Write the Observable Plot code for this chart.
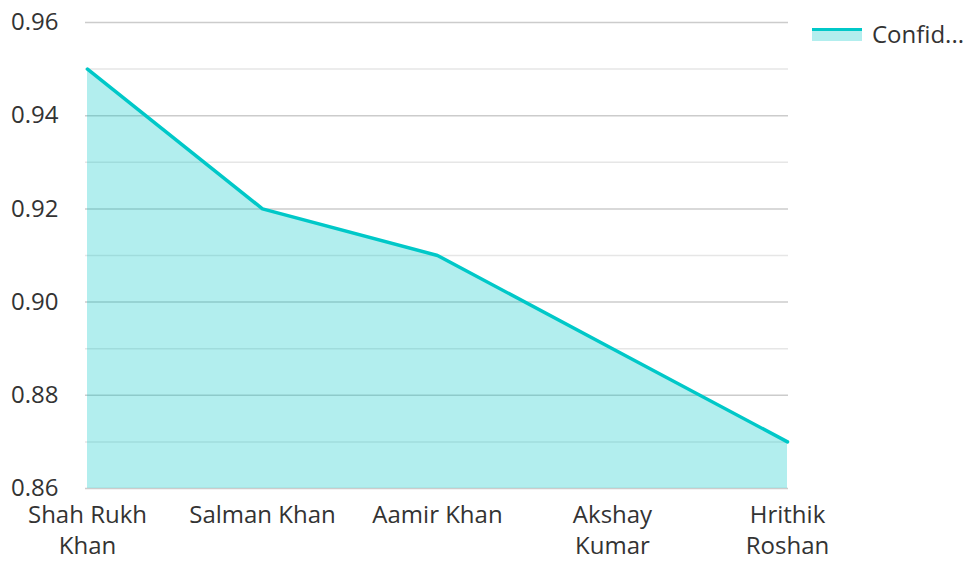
<!DOCTYPE html>
<html>
<head>
<meta charset="utf-8">
<script src="https://cdn.jsdelivr.net/npm/d3@7"></script>
<script src="https://cdn.jsdelivr.net/npm/@observablehq/plot@0.6"></script>
<style>
  html, body { margin: 0; padding: 0; background: #fff; }
  #wrap { position: relative; width: 969px; height: 561px; font-family: "Open Sans", sans-serif; }
  #legend { position: absolute; left: 812px; top: 17px; display: flex; align-items: center; font-size: 24px; color: #333; }
  #legend .sw { width: 50px; height: 13px; background: rgba(0,200,200,0.3); border-top: 3px solid #00c8c8; box-sizing: border-box; margin-right: 10px; margin-top: 2px; }
</style>
</head>
<body>
<div id="wrap"><div id="legend"><div class="sw"></div><span>Confid...</span></div></div>
<script>
const actors = ["Shah Rukh Khan", "Salman Khan", "Aamir Khan", "Akshay Kumar", "Hrithik Roshan"];
const confidence = [0.95, 0.92, 0.91, 0.89, 0.87];
const tickLabels = ["Shah Rukh\nKhan", "Salman Khan", "Aamir Khan", "Akshay\nKumar", "Hrithik\nRoshan"];
const majorTicks = [0.86, 0.88, 0.90, 0.92, 0.94, 0.96];
const minorTicks = [0.87, 0.89, 0.91, 0.93, 0.95];
const seriesName = "Confid...";

const data = actors.map((a, i) => ({actor: a, value: confidence[i]}));
const color = "#00c8c8";

const chart = Plot.plot({
  width: 969,
  height: 561,
  marginTop: 22,
  marginBottom: 73,
  marginLeft: 85,
  marginRight: 181,
  style: {fontFamily: "'Open Sans', sans-serif", fontSize: "24px", color: "#333", background: "transparent"},
  x: {type: "point", domain: actors, label: null, padding: 0, inset: 0},
  y: {domain: [0.86, 0.96], label: null},
  marks: [
    Plot.ruleY(minorTicks, {stroke: "#e6e6e6", strokeWidth: 1.5}),
    Plot.ruleY(majorTicks, {stroke: "#cccccc", strokeWidth: 1.5}),
    Plot.areaY(data, {x: "actor", y1: 0.86, y2: "value", fill: color, fillOpacity: 0.3}),
    Plot.lineY(data, {x: "actor", y: "value", stroke: color, strokeWidth: 3.5}),
    Plot.axisY(majorTicks, {tickSize: 0, tickPadding: 27, tickFormat: d3.format(".2f"), fill: "#333", fontSize: 24}),
    Plot.axisX(actors, {tickSize: 0, tickPadding: 13, tickFormat: (d) => tickLabels[actors.indexOf(d)], fill: "#333", fontSize: 24, lineHeight: 1.27})
  ]
});
document.getElementById("wrap").prepend(chart);
</script>
</body>
</html>
